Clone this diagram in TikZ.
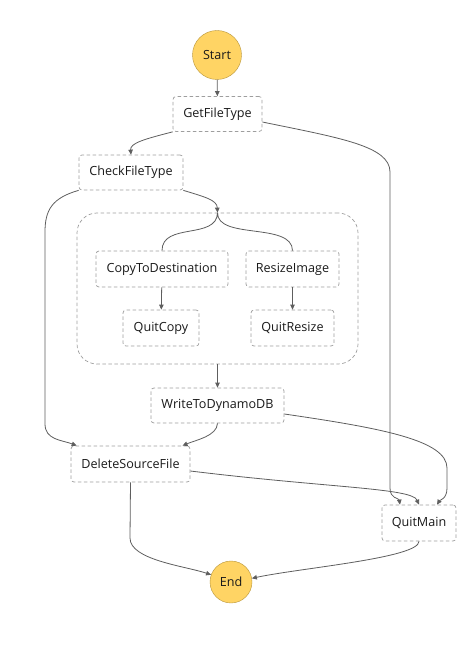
\documentclass[tikz,border=0pt]{standalone}
\usepackage{fontspec}
\setmainfont{Open Sans}
\usetikzlibrary{arrows.meta}
\definecolor{boxline}{HTML}{9E9E9E}
\definecolor{flow}{HTML}{5E5E5E}
\definecolor{termfill}{HTML}{FFD464}
\definecolor{termline}{HTML}{B8953A}
\definecolor{txt}{HTML}{1A1A1A}
\begin{document}
\begin{tikzpicture}
    [x=1pt,y=-1pt,
    font=\fontsize{12.6}{14}\selectfont,text=txt,
    task/.style={draw=boxline,line width=0.7pt,dash pattern=on 3.5pt off 2.5pt,
        rounded corners=3pt,fill=white,inner sep=0pt,minimum height=35pt},
    term/.style={circle,draw=termline,fill=termfill,inner sep=0pt},
    group/.style={draw=boxline,line width=0.7pt,dash pattern=on 3.5pt off 2.5pt,
        rounded corners=20pt,minimum width=281pt,minimum height=151pt},
    >={Triangle[length=5pt,width=4.5pt]}]
\useasboundingbox (0,0) rectangle (470,647);
\path
    (217.5,288.5) node [group] (par) {}
    (217,55) node [term,minimum size=49pt] (start) {Start}
    (217.5,114) node [task,minimum width=89pt] (get) {GetFileType}
    (131,172.5) node [task,minimum width=104pt] (check) {CheckFileType}
    (162,269) node [task,minimum width=132pt,minimum height=36pt] (copy) {CopyToDestination}
    (292.5,269) node [task,minimum width=93pt,minimum height=36pt] (resize) {ResizeImage}
    (161,328) node [task,minimum width=76pt,minimum height=36pt] (qcopy) {QuitCopy}
    (292.5,328) node [task,minimum width=83pt,minimum height=36pt] (qresize) {QuitResize}
    (217.5,405.5) node [task,minimum width=133pt] (write) {WriteToDynamoDB}
    (130.5,464) node [task,minimum width=119pt,minimum height=36pt] (del) {DeleteSourceFile}
    (419,523) node [task,minimum width=74pt,minimum height=36pt] (qmain) {QuitMain}
    (231,582) node [term,minimum size=42pt] (end) {End};
\draw [flow,line width=0.8pt,->]
    (start) -- (get);
\draw [flow,line width=0.8pt,->]
    (get.south west) .. controls (145,139) and (130,143) .. (check.north);
\draw [flow,line width=0.8pt,->]
    ([yshift=-8pt]get.east) .. controls (340,138) and (390,146) .. (390,172)
    -- (390,488) .. controls (390,499) and (399,498) .. ([xshift=-19pt]qmain.north);
\draw [flow,line width=0.8pt,->]
    (check.south east) .. controls (205,197) and (217,200) .. (par.north);
\draw [flow,line width=0.8pt,->]
    (check.south west) .. controls (52,198) and (45,210) .. (45,232)
    -- (45,424) .. controls (45,440) and (62,440) .. ([xshift=6pt]del.north west);
\draw [flow,line width=0.8pt]
    (par.north) .. controls (217,240) and (162,222) .. (copy.north)
    (par.north) .. controls (217,240) and (292.5,222) .. (resize.north);
\draw [flow,line width=0.8pt,->]
    (copy) -- (qcopy);
\draw [flow,line width=0.8pt,->]
    (resize) -- (qresize);
\draw [flow,line width=0.8pt,->]
    (par.south) -- (write.north);
\draw [flow,line width=0.8pt,->]
    (write.south) .. controls (217,436) and (196,440) .. ([xshift=52pt]del.north);
\draw [flow,line width=0.8pt,->]
    ([yshift=-8.5pt]write.east) .. controls (380,428) and (447,440) .. (447,468)
    -- (447,488) .. controls (447,499) and (440,500) .. ([xshift=18pt]qmain.north);
\draw [flow,line width=0.8pt,->]
    ([yshift=-7pt]del.east) .. controls (330,488) and (412,488) .. (qmain.north);
\draw [flow,line width=0.8pt,->]
    (del.south) -- (130,538) .. controls (130,560) and (185,566) .. (end.160);
\draw [flow,line width=0.8pt,->]
    (qmain.south) .. controls (419,558) and (300,568) .. (end.10);
\end{tikzpicture}
\end{document}
